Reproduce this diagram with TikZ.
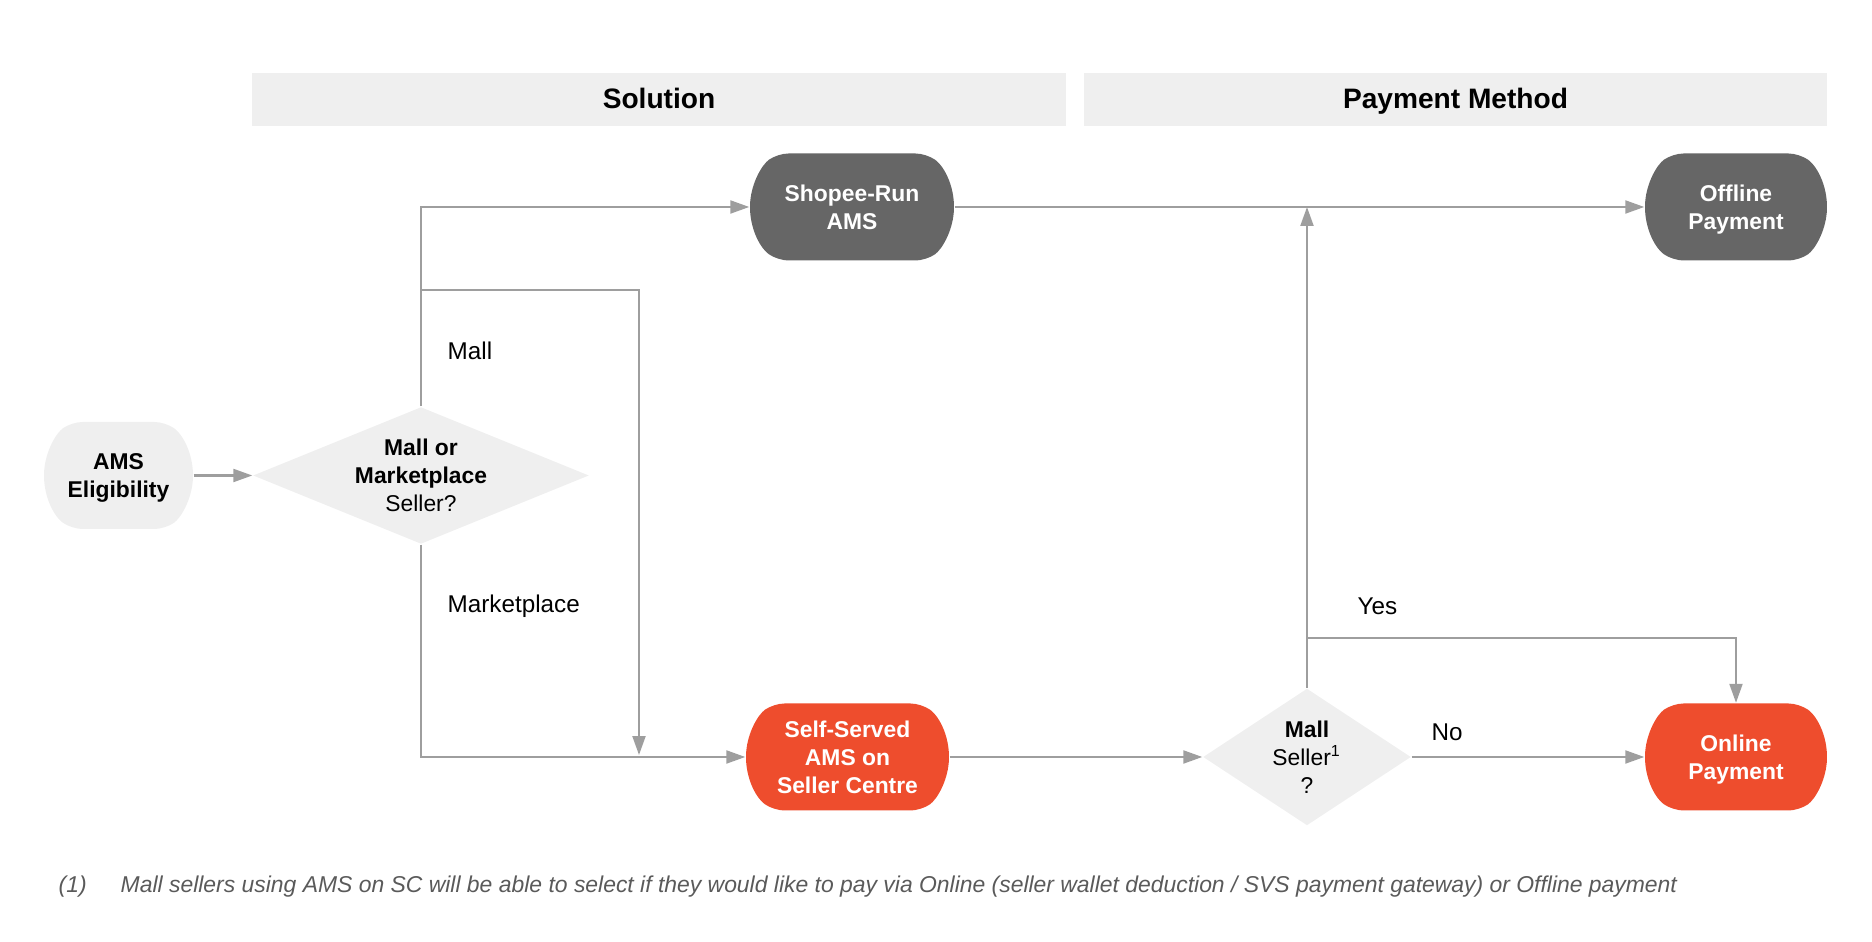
\documentclass[tikz,border=0pt]{standalone}
\usepackage{fontspec}
\setmainfont{Liberation Sans}
\usepackage{tikz}
\usetikzlibrary{positioning,arrows.meta,shapes.geometric,shapes.misc}
\definecolor{boxgrey}{HTML}{EFEFEF}
\definecolor{rungrey}{HTML}{666666}
\definecolor{shopee}{HTML}{EE4D2D}
\definecolor{linegrey}{HTML}{9E9E9E}
\definecolor{notegrey}{HTML}{5A5A5A}

\begin{document}
\begin{tikzpicture}[
    >={Triangle[length=5.4pt,width=3.7pt]},
    header/.style={
        rectangle, fill=boxgrey, inner sep=0pt,
        minimum height=0.53cm, text height=0.72em, text depth=0.2em,
        font=\fontsize{8}{9.6}\selectfont\bfseries
    },
    term/.style={
        rounded rectangle, rounded rectangle arc length=110,
        rounded corners=3pt,
        minimum height=1.07cm, inner sep=0pt,
        align=center, text=white,
        font=\fontsize{6.5}{8}\selectfont\bfseries
    },
    decide/.style={
        diamond, fill=boxgrey, inner sep=0pt,
        align=center,
        font=\fontsize{6.5}{7.9}\selectfont
    },
    lbl/.style={anchor=west, inner sep=0pt, font=\fontsize{6.9}{8}\selectfont},
    arr/.style={->, line width=0.6pt, linegrey},
    note/.style={anchor=west, inner sep=0pt, text=notegrey,
        font=\fontsize{6.52}{8}\selectfont\itshape},
]
\useasboundingbox (0,0) rectangle (18.72,-9.42);

% ── Column headers ──
\node[header, minimum width=8.14cm] (hsol) at (6.59,-0.995) {Solution};
\node[header, minimum width=7.43cm] (hpay) at (14.555,-0.995) {Payment Method};

% ── Start and first decision ──
\node[term, fill=boxgrey, text=black, minimum width=1.49cm, text depth=0pt]
    (elig) at (1.185,-4.755) {AMS\\Eligibility};
\node[decide, minimum width=3.36cm, minimum height=1.37cm, shape aspect=2.45]
    (seller) at (4.21,-4.755) {\textbf{Mall or}\\\textbf{Marketplace}\\Seller?};

\draw[arr] (elig.east) -- (seller.west);

% ── Solution nodes ──
\node[term, fill=rungrey, minimum width=2.04cm]
    (srams) at (8.52,-2.07) {Shopee-Run\\AMS};
\node[term, fill=shopee, minimum width=2.03cm]
    (ssams) at (8.475,-7.57) {Self-Served\\AMS on\\Seller Centre};

\coordinate (mallsplit) at (4.21,-2.9);
\coordinate (mpjoin)    at (6.39,-7.55);

\draw[arr] (seller.north) |- (srams.west);
\draw[arr] (mallsplit) -| (mpjoin);
\draw[arr] (seller.south) |- (ssams.west);

\node[lbl] (lmall) at (4.47,-3.51) {Mall};
\node[lbl] (lmkt)  at (4.47,-6.06) {Marketplace};

% ── Second decision ──
\node[decide, minimum width=2.08cm, minimum height=1.37cm, shape aspect=1.52]
    (mallq) at (13.07,-7.57) {\textbf{Mall}\\Seller\textsuperscript{1}\\?};

\draw[arr] (ssams.east) -- (mallq.west);

% ── Payment nodes ──
\node[term, fill=rungrey, minimum width=1.82cm, text depth=0pt]
    (offline) at (17.36,-2.07) {Offline\\Payment};
\node[term, fill=shopee, minimum width=1.82cm, text depth=0pt]
    (online) at (17.36,-7.57) {Online\\Payment};

\coordinate (yessplit) at (13.07,-6.38);

\draw[arr] (srams.east) -- (offline.west);
\draw[arr] (mallq.north) -- (mallq.north |- srams.east);
\draw[arr] (yessplit) -| (online.north);
\draw[arr] (mallq.east) -- (online.west);

\node[lbl] (lyes) at (13.57,-6.06) {Yes};
\node[lbl] (lno)  at (14.31,-7.32) {No};

% ── Footnote ──
\node[note] (fnum) at (0.58,-8.87) {(1)};
\node[note] (ftext) at (1.20,-8.87)
    {Mall sellers using AMS on SC will be able to select if they would like to pay via Online (seller wallet deduction / SVS payment gateway) or Offline payment};

\end{tikzpicture}
\end{document}
